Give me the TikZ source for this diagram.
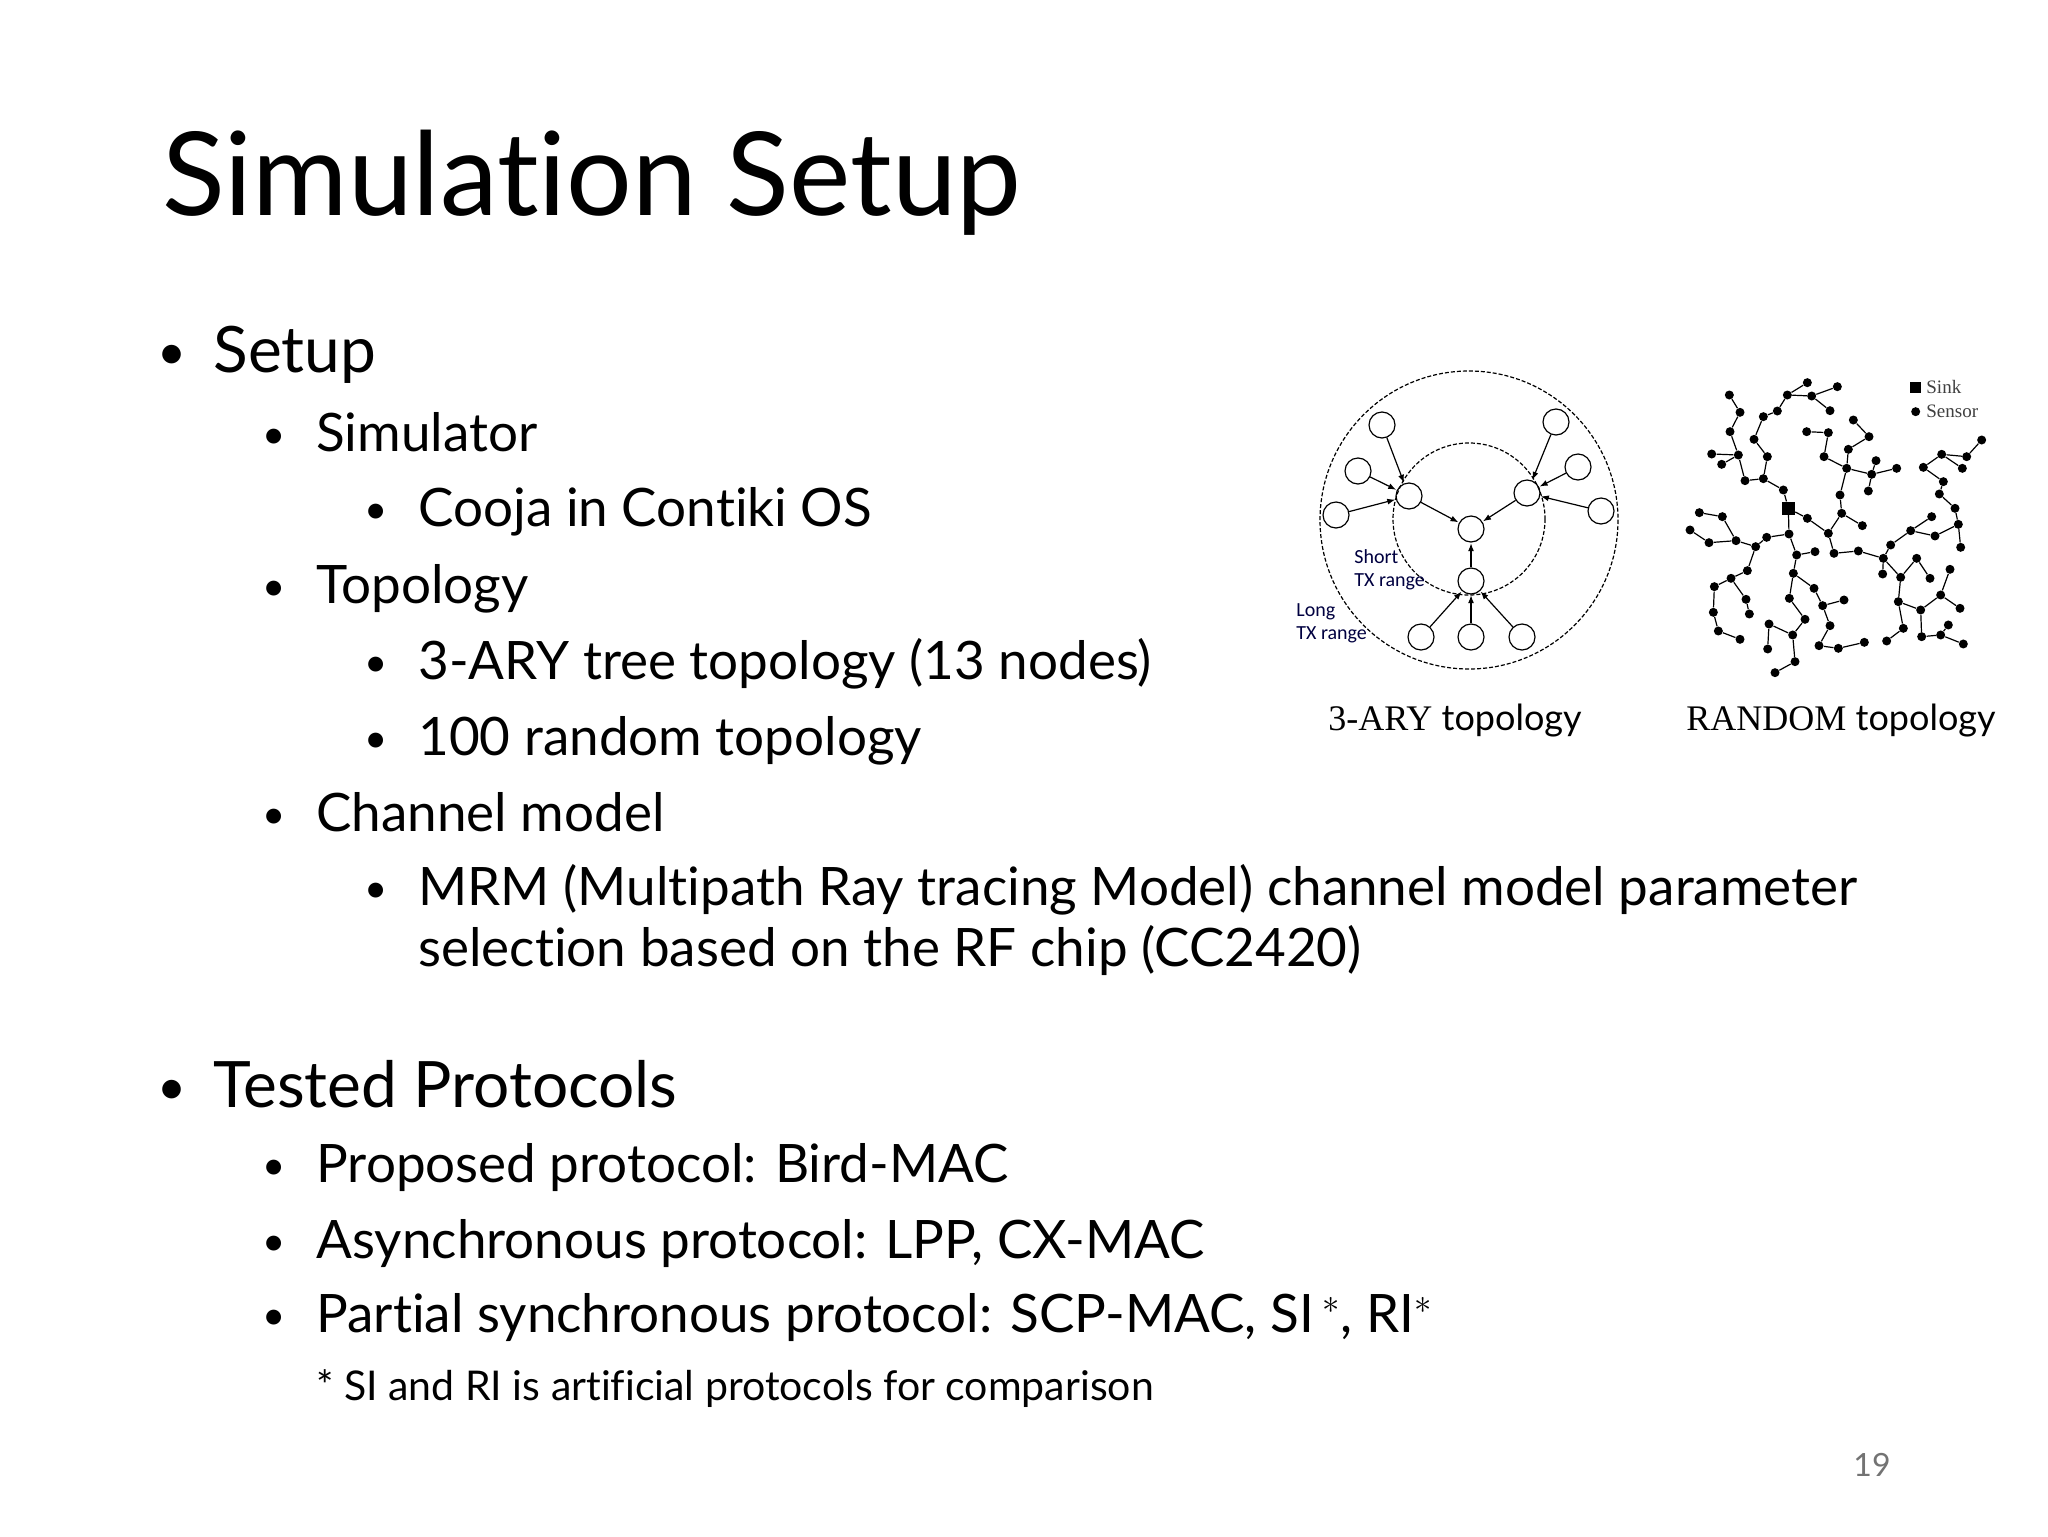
\documentclass[tikz,border=0pt]{standalone}
\usepackage{fontspec}
\setmainfont{Lato}[RawFeature=-liga]
\newfontfamily\calfont{Carlito}
\newfontfamily\serfont{Liberation Serif}
\usetikzlibrary{arrows.meta}
\begin{document}
\begin{tikzpicture}[x=0.5pt,y=-0.5pt,
  txt/.style={anchor=base west,inner sep=0pt},
  lone/.style={txt,font=\fontsize{32}{36}\selectfont},
  ltwo/.style={txt,font=\fontsize{26.5}{30}\selectfont},
  bul/.style={anchor=base,inner sep=0pt,font=\fontsize{20}{24}\selectfont},
  bulb/.style={anchor=base,inner sep=0pt,font=\fontsize{25}{28}\selectfont},
  tn/.style={circle,draw,line width=0.6pt,minimum size=13pt,inner sep=0pt},
  arr/.style={-{Latex[length=4pt,width=3pt]},line width=0.6pt,shorten >=0.3pt},
  rng/.style={draw,line width=0.6pt,dash pattern=on 2pt off 1pt},
  rd/.style={circle,fill=black,minimum size=4.5pt,inner sep=0pt},
  re/.style={line width=0.6pt}]
\useasboundingbox (0,0) rectangle (2048,1536);
\fill[white] (0,0) rectangle (2048,1536);
\node[txt,font=\fontsize{58}{62}\selectfont] (title) at (162,215) {Simulation Setup};
% bullets
\node[bulb] (b1) at (172,369) {\textbullet};
\node[lone] (t1) at (213,372) {Setup};
\node[bul] (b2) at (274,448) {\textbullet};
\node[ltwo] (t2) at (316,451) {Simulator};
\node[bul] (b3) at (376,523) {\textbullet};
\node[ltwo] (t3) at (418,526) {Cooja in Contiki OS};
\node[bul] (b4) at (274,600) {\textbullet};
\node[ltwo] (t4) at (316,603) {Topology};
\node[bul] (b5) at (376,676) {\textbullet};
\node[ltwo] (t5) at (418,679) {3-ARY tree topology (13 nodes)};
\node[bul] (b6) at (376,752) {\textbullet};
\node[ltwo] (t6) at (418,755) {100 random topology};
\node[bul] (b7) at (274,828) {\textbullet};
\node[ltwo] (t7) at (316,831) {Channel model};
\node[bul] (b8) at (376,902) {\textbullet};
\node[ltwo] (t8) at (418,905) {MRM (Multipath Ray tracing Model) channel model parameter};
\node[ltwo] (t8b) at (418,966) {selection based on the RF chip (CC2420)};
\node[bulb] (b9) at (172,1104) {\textbullet};
\node[lone] (t9) at (213,1107) {Tested Protocols};
\node[bul] (b10) at (274,1179) {\textbullet};
\node[ltwo] (t10) at (316,1182) {Proposed protocol: Bird-MAC};
\node[bul] (b11) at (274,1255) {\textbullet};
\node[ltwo] (t11) at (316,1258) {Asynchronous protocol: LPP, CX-MAC};
\node[bul] (b12) at (274,1329) {\textbullet};
\node[ltwo] (t12) at (316,1332) {Partial synchronous protocol: SCP-MAC, SI\,$^{*}$, RI$^{*}$};
\node[txt,font=\fontsize{20.5}{24}\selectfont] (fn) at (316,1400) {* SI and RI is artificial protocols for comparison};
\node[txt,anchor=base,font=\fontsize{16}{18}\selectfont,text=black!55] (pg) at (1872,1476) {19};
% tree topology
\draw[rng] (1469,520) circle[radius=149];
\draw[rng] (1469,519) circle[radius=76];
\node[tn] (r) at (1471,529) {};
\node[tn] (l) at (1409,496) {};
\node[tn] (rr) at (1527,493) {};
\node[tn] (bb) at (1471,581) {};
\node[tn] (l1) at (1382,425) {};
\node[tn] (l2) at (1358,471) {};
\node[tn] (l3) at (1336,515) {};
\node[tn] (r1) at (1556,422) {};
\node[tn] (r2) at (1578,467) {};
\node[tn] (r3) at (1601,511) {};
\node[tn] (c1) at (1421,637) {};
\node[tn] (c2) at (1471,637) {};
\node[tn] (c3) at (1522,637) {};
\foreach \a/\b in {l/r,rr/r,bb/r,l1/l,l2/l,l3/l,r1/rr,r2/rr,r3/rr,c1/bb,c2/bb,c3/bb}
  \draw[arr] (\a) -- (\b);
\node[anchor=west,align=left,inner sep=0pt,font=\calfont\fontsize{10}{11.5}\selectfont,text=black!75!blue] (sh) at (1354,570) {Short\\TX range};
\node[anchor=west,align=left,inner sep=0pt,font=\calfont\fontsize{10}{11.5}\selectfont,text=black!75!blue] (lg) at (1296,623) {Long\\TX range};
\node[anchor=base,inner sep=0pt,font=\fontsize{18}{21}\selectfont] (cap1) at (1455,730) {{\serfont 3-ARY} topology};
\node[anchor=base,inner sep=0pt,font=\fontsize{18}{21}\selectfont] (cap2) at (1841,730) {{\serfont RANDOM} topology};
% random topology
\begin{scope}[shift={(1670,360)},x=0.5pt/3,y=-0.5pt/3]
\node[fill=black,minimum size=6.5pt,inner sep=0pt] (S) at (355,445) {};
\foreach \n/\p in {a1/{412,68},a2/{502,80},a3/{352,105},a4/{425,108},a5/{480,152},a6/{322,153},a7/{280,170},a8/{252,238},a9/{292,290},a10/{280,356},a11/{225,362},a12/{340,390},
 b1/{178,105},b2/{210,157},b3/{180,215},b4/{205,285},b5/{125,282},b6/{155,313},
 c1/{550,180},c2/{597,230},c3/{535,268},c4/{410,215},c5/{475,218},c6/{462,290},c7/{530,325},c8/{605,343},c9/{618,302},c10/{680,325},c11/{595,393},c12/{510,405},c13/{515,460},c14/{577,497},c15/{475,520},c16/{412,475},
 d1/{935,240},d2/{890,290},d3/{815,283},d4/{877,325},d5/{760,322},d6/{820,365},d7/{808,402},d8/{855,445},d9/{865,493},d10/{872,562},d11/{795,528},d12/{722,512},d13/{785,470},d14/{662,555},d15/{640,595},d16/{565,573},d17/{492,580},d18/{638,642},d19/{692,652},d20/{740,595},d21/{780,655},
 e1/{685,725},e2/{700,805},e3/{650,843},e4/{752,750},e5/{812,705},e6/{840,628},e7/{870,745},e8/{755,830},e9/{812,825},e10/{835,795},e11/{880,852},
 f1/{357,522},f2/{290,532},f3/{380,585},f4/{435,575},f5/{370,640},f6/{432,685},f7/{458,737},f8/{522,720},f9/{480,797},f10/{447,857},f11/{505,865},f12/{583,847},f13/{358,715},f14/{405,778},f15/{368,825},f16/{297,792},f17/{293,867},f18/{375,905},f19/{315,938},
 g1/{88,458},g2/{157,470},g3/{60,510},g4/{117,548},g5/{198,542},g6/{257,560},g7/{232,632},g8/{183,655},g9/{133,680},g10/{130,757},g11/{145,813},g12/{210,838},g13/{228,718},g14/{238,762}}
  \node[rd] (\n) at (\p) {};
\foreach \a/\b in {a1/a3,a3/a4,a4/a2,a4/a5,a3/a6,a6/a7,a7/a8,a8/a9,a9/a10,a10/a11,a10/a12,a12/S,
 b1/b2,b2/b3,b3/b4,b4/b5,b4/b6,b4/a11,
 c1/c2,c2/c3,c3/c7,c4/c5,c5/c6,c6/c7,c7/c8,c8/c9,c8/c10,c8/c11,c7/c12,c12/c13,c13/c14,c13/c15,c15/c16,c16/S,
 d1/d2,d2/d3,d3/d4,d3/d5,d5/d6,d6/d7,d7/d8,d8/d9,d9/d10,d9/d11,d11/d12,d12/d13,d12/d14,d14/d15,d15/d16,d16/d17,d17/c15,d15/d18,d15/d19,d19/d20,d20/d21,
 d19/e1,e1/e2,e2/e3,e1/e4,e4/e5,e5/e6,e5/e7,e4/e8,e8/e9,e9/e10,e9/e11,
 S/f1,f1/f2,f1/f3,f3/f4,f3/f5,f5/f6,f6/f7,f7/f8,f7/f9,f9/f10,f10/f11,f11/f12,f5/f13,f13/f14,f14/f15,f15/f16,f16/f17,f15/f18,f18/f19,
 g1/g2,g2/g5,g3/g4,g4/g5,g5/g6,g6/f2,g6/g7,g7/g8,g8/g9,g9/g10,g10/g11,g11/g12,g8/g13,g13/g14}
  \draw[re] (\a) -- (\b);
\node[fill=black,minimum size=5.5pt,inner sep=0pt] (ls) at (737,82) {};
\node[rd] (ld) at (737,155) {};
\node[anchor=west,inner sep=0pt,font=\serfont\fontsize{9.5}{11}\selectfont,text=black!75] (lst) at (768,82) {Sink};
\node[anchor=west,inner sep=0pt,font=\serfont\fontsize{9.5}{11}\selectfont,text=black!75] (ldt) at (768,155) {Sensor};
\end{scope}
\end{tikzpicture}
\end{document}
